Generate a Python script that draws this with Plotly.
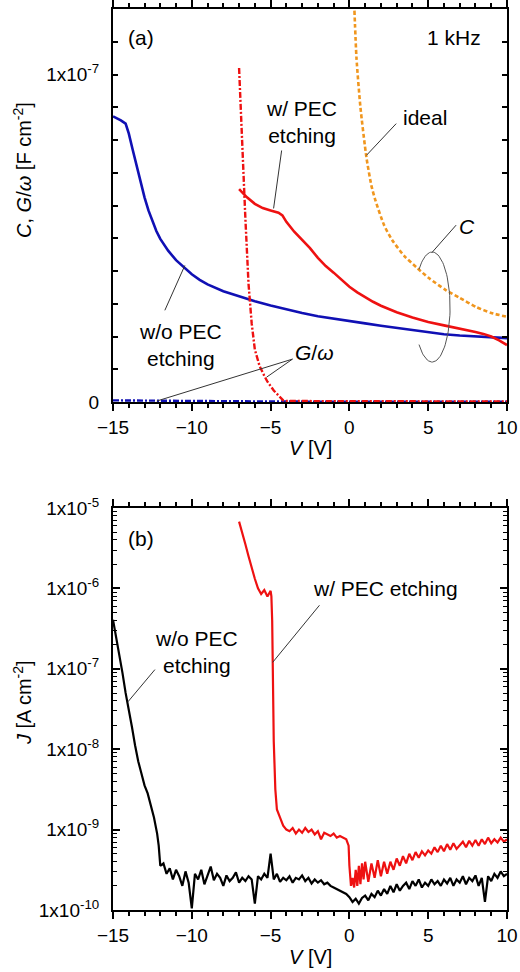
import numpy as np
import plotly.graph_objects as go

# ---------------- Panel (a): C-V and G/omega-V (values in units of 1e-8 F cm^-2) ----------------
UNIT_A = 1e-8

V_C_wo = [-15, -14.5, -14.2, -14.0, -13.75, -13.5, -13.25, -13.0, -12.75, -12.5, -12.25, -12.0, -11.5, -11.0,
          -10.5, -10.0, -9.5, -9.0, -8.0, -7.0, -6.0, -5.0, -4.0, -3.0, -2.0, -1.0, 0, 1, 2, 3, 4, 5, 6, 7, 8, 9, 10]
C_wo = [8.72, 8.6, 8.5, 8.2, 7.7, 7.2, 6.7, 6.25, 5.85, 5.5, 5.22, 4.98, 4.62, 4.33,
        4.1, 3.9, 3.73, 3.59, 3.38, 3.22, 3.08, 2.95, 2.83, 2.72, 2.62, 2.54, 2.47, 2.4, 2.33, 2.26, 2.19,
        2.12, 2.07, 2.03, 2.0, 1.97, 1.95]

V_G_wo = [-15, -14, -13, -12, -10, -5, 0, 5, 10]
G_wo = [0.05, 0.045, 0.04, 0.03, 0.02, 0.015, 0.01, 0.01, 0.01]

V_C_w = [-7.0, -6.5, -6.0, -5.5, -5.0, -4.5, -4.25, -4.0, -3.5, -3.0, -2.5, -2.0, -1.5, -1.0, -0.5, 0, 0.5,
         1.0, 1.5, 2.0, 3.0, 4.0, 5.0, 6.0, 7.0, 8.0, 8.5, 9.0, 9.5, 10.0]
C_w = [6.5, 6.25, 6.05, 5.92, 5.85, 5.78, 5.7, 5.5, 5.2, 4.95, 4.7, 4.4, 4.15, 3.95, 3.72, 3.52, 3.35,
       3.2, 3.06, 2.94, 2.74, 2.58, 2.44, 2.34, 2.25, 2.14, 2.08, 2.0, 1.88, 1.74]

V_G_w = [-7.0, -6.8, -6.6, -6.4, -6.2, -6.0, -5.7, -5.4, -5.2, -4.8, -4.5, -4.2, -4.0, 0, 5, 10]
G_w = [10.2, 7.8, 5.6, 3.6, 2.4, 1.6, 1.1, 0.8, 0.62, 0.35, 0.2, 0.05, 0.03, 0.02, 0.02, 0.02]

V_ideal = [0.32, 0.45, 0.7, 1.08, 1.4, 1.65, 2.2, 2.72, 3.5, 4.24, 5.0, 6.14, 7.0, 8.04, 9.0, 10.0]
C_ideal = [11.95, 10.5, 9.0, 7.47, 6.6, 6.16, 5.4, 4.94, 4.45, 4.12, 3.8, 3.41, 3.18, 2.9, 2.72, 2.6]

# ---------------- Panel (b): J-V (log10 of J in A cm^-2) ----------------
V_J_wo = [-15, -14.8, -14.6, -14.4, -14.2, -14.0, -13.8, -13.6, -13.4, -13.2, -13.0, -12.8, -12.6, -12.4,
          -12.2, -12.1, -12.0] + [round(-11.8 + 0.2 * i, 1) for i in range(110)]
logJ_wo = [-6.39, -6.6, -6.85, -7.05, -7.3, -7.5, -7.72, -7.95, -8.15, -8.3, -8.45, -8.55, -8.7, -8.85,
           -9.05, -9.2, -9.45,
           -9.42, -9.55, -9.48, -9.62, -9.5, -9.58, -9.7, -9.52, -9.66, -9.98,
           -9.55, -9.62, -9.5, -9.68, -9.58, -9.46, -9.63, -9.55, -9.6, -9.7,
           -9.57, -9.64, -9.6, -9.53, -9.66, -9.6, -9.64, -9.58, -9.62, -9.92,
           -9.58, -9.62, -9.55, -9.6, -9.3, -9.62, -9.55, -9.65, -9.6, -9.63,
           -9.58, -9.66, -9.6, -9.62, -9.57, -9.64, -9.6, -9.67, -9.62, -9.66,
           -9.63, -9.68, -9.66, -9.7, -9.72, -9.74, -9.76, -9.78, -9.8, -9.84,
           -9.9, -9.86, -9.92, -9.85, -9.82, -9.88, -9.8, -9.84, -9.76, -9.82,
           -9.74, -9.8, -9.7, -9.78, -9.68, -9.76, -9.7, -9.66, -9.74, -9.64,
           -9.7, -9.62, -9.72, -9.66, -9.7, -9.62, -9.68, -9.64, -9.7, -9.62,
           -9.67, -9.6, -9.7, -9.62, -9.66, -9.58, -9.68, -9.6, -9.64, -9.57,
           -9.7, -9.6, -9.9, -9.58, -9.64, -9.55, -9.6, -9.52, -9.58, -9.55]

V_J_w = [-7.0, -6.8, -6.6, -6.4, -6.2, -6.0, -5.8, -5.6, -5.4, -5.2, -5.0, -4.95, -4.9, -4.85, -4.8, -4.7,
         -4.6, -4.4, -4.2, -4.0, -3.8, -3.6, -3.4, -3.2, -3.0, -2.8, -2.6, -2.4, -2.2, -2.0, -1.8, -1.6,
         -1.4, -1.2, -1.0, -0.8, -0.6, -0.4, -0.2, -0.05, 0.0, 0.1, 0.2, 0.3, 0.4, 0.5, 0.6, 0.7, 0.8,
         0.9, 1.0, 1.2, 1.4, 1.6, 1.8, 2.0, 2.2, 2.4, 2.6, 2.8, 3.0, 3.2, 3.4, 3.6, 3.8, 4.0, 4.2, 4.4,
         4.6, 4.8, 5.0, 5.2, 5.4, 5.6, 5.8, 6.0, 6.2, 6.4, 6.6, 6.8, 7.0, 7.2, 7.4, 7.6, 7.8, 8.0, 8.2,
         8.4, 8.6, 8.8, 9.0, 9.2, 9.4, 9.6, 9.8, 10.0]
logJ_w = [-5.17, -5.3, -5.45, -5.6, -5.75, -5.88, -6.0, -6.07, -6.02, -6.1, -6.03, -6.1, -6.4, -7.2, -7.9,
          -8.5, -8.75, -8.85, -8.95, -9.0, -9.02, -8.98, -9.05, -9.0, -9.04, -8.98, -9.03, -9.0, -9.06,
          -9.02, -9.12, -9.04, -9.06, -9.08, -9.05, -9.1, -9.08, -9.1, -9.12, -9.2, -9.45, -9.7, -9.6,
          -9.72, -9.5, -9.7, -9.45, -9.68, -9.42, -9.62, -9.4, -9.65, -9.42, -9.6, -9.38, -9.58, -9.4,
          -9.55, -9.4, -9.5, -9.36, -9.45, -9.33, -9.42, -9.3, -9.38, -9.28, -9.35, -9.27, -9.32, -9.26,
          -9.3, -9.22, -9.28, -9.2, -9.27, -9.18, -9.25, -9.17, -9.24, -9.2, -9.15, -9.22, -9.14, -9.2,
          -9.13, -9.2, -9.12, -9.18, -9.1, -9.17, -9.12, -9.16, -9.1, -9.15, -9.12]

x_ticks = [-15, -10, -5, 0, 5, 10]
ya_ticks = [i * 1e-8 for i in range(13)]
ya_text = ["0" if i == 0 else ("1x10<sup>-7</sup>" if i == 10 else "") for i in range(13)]
yb_ticks = [1e-10, 1e-9, 1e-8, 1e-7, 1e-6, 1e-5]
yb_text = ["1x10<sup>-10</sup>", "1x10<sup>-9</sup>", "1x10<sup>-8</sup>", "1x10<sup>-7</sup>",
           "1x10<sup>-6</sup>", "1x10<sup>-5</sup>"]

BLUE = "#1010b4"
RED = "#ee1111"
ORANGE = "#f0961e"
FONT = "Liberation Sans, Arial, sans-serif"
W, H = 520, 972

fig = go.Figure()

def sc(a):
    return [v * UNIT_A for v in a]

fig.add_trace(go.Scatter(x=V_C_wo, y=sc(C_wo), mode="lines", line=dict(color=BLUE, width=2.6), xaxis="x", yaxis="y"))
fig.add_trace(go.Scatter(x=V_G_wo, y=sc(G_wo), mode="lines", line=dict(color=BLUE, width=2.4, dash="6px,2px,2px,2px"), xaxis="x", yaxis="y"))
fig.add_trace(go.Scatter(x=V_ideal, y=sc(C_ideal), mode="lines", line=dict(color=ORANGE, width=2.6, dash="4px,2.5px", shape="spline", smoothing=0.6), xaxis="x", yaxis="y"))
fig.add_trace(go.Scatter(x=V_G_w, y=sc(G_w), mode="lines", line=dict(color=RED, width=2.4, dash="6px,2px,2px,2px"), xaxis="x", yaxis="y"))
fig.add_trace(go.Scatter(x=V_C_w, y=sc(C_w), mode="lines", line=dict(color=RED, width=2.6), xaxis="x", yaxis="y"))

fig.add_trace(go.Scatter(x=V_J_wo, y=[10 ** v for v in logJ_wo], mode="lines", line=dict(color="black", width=2.2), xaxis="x2", yaxis="y2"))
fig.add_trace(go.Scatter(x=V_J_w, y=[10 ** v for v in logJ_w], mode="lines", line=dict(color=RED, width=2.2), xaxis="x2", yaxis="y2"))

# "C" bracket (open ellipse) annotation
ec_x, ec_y, erx, ery = 5.25, 2.90e-8, 1.14, 1.68e-8
t = np.linspace(-2.39, 2.39, 80)
fig.add_trace(go.Scatter(x=ec_x + erx * np.cos(t), y=ec_y + ery * np.sin(t), mode="lines",
                         line=dict(color="#555555", width=1), xaxis="x", yaxis="y"))

xd_px = (113, 507)
def ax_common(**kw):
    d = dict(showline=True, linecolor="black", linewidth=2, mirror="ticks", showgrid=False, zeroline=False,
             tickfont=dict(family=FONT, size=19, color="black"), tickcolor="black", automargin=False)
    d.update(kw)
    return d

dom_x = [xd_px[0] / W, xd_px[1] / W]
layout = dict(
    width=W, height=H, margin=dict(l=0, r=0, t=0, b=0), showlegend=False,
    paper_bgcolor="white", plot_bgcolor="white", template="none",
    font=dict(family=FONT, size=19, color="black"),
    xaxis=ax_common(domain=dom_x, range=[-15, 10], anchor="y", tickvals=x_ticks, ticks="outside", ticklen=7, tickwidth=2,
                    minor=dict(dtick=1, tick0=0, ticks="outside", ticklen=4, tickwidth=1.5, tickcolor="black", showgrid=False)),
    yaxis=ax_common(domain=[1 - 402 / H, 1 - 9 / H], range=[0, 1.2e-7], anchor="x", tickmode="array",
                    tickvals=ya_ticks, ticktext=ya_text, ticks="inside", ticklen=5, tickwidth=2, ticklabelstandoff=8),
    xaxis2=ax_common(domain=dom_x, range=[-15, 10], anchor="y2", tickvals=x_ticks, ticks="outside", ticklen=7, tickwidth=2,
                     minor=dict(dtick=1, tick0=0, ticks="outside", ticklen=4, tickwidth=1.5, tickcolor="black", showgrid=False)),
    yaxis2=ax_common(domain=[1 - 910 / H, 1 - 508 / H], type="log", range=[-10, -5], anchor="x2", tickmode="array",
                     tickvals=yb_ticks, ticktext=yb_text, ticks="inside", ticklen=7, tickwidth=2, ticklabelstandoff=8,
                     minor=dict(dtick="D1", ticks="inside", ticklen=4, tickwidth=1.2, tickcolor="black", showgrid=False)),
)
fig.update_layout(**layout)

LC = "#333333"
def seg(x0, y0, x1, y1, xr="x", yr="y"):
    fig.add_shape(type="line", x0=x0, y0=y0, x1=x1, y1=y1, xref=xr, yref=yr, line=dict(color=LC, width=1))

seg(-4.30, 7.68e-8, -4.81, 5.91e-8)
seg(2.97, 8.5e-8, 1.08, 7.53e-8)
seg(-11.71, 2.80e-8, -10.44, 4.17e-8)
seg(-3.61, 1.31e-8, -12.22, 0.03e-8)
seg(-3.61, 1.31e-8, -5.25, 0.76e-8)
seg(6.77, 5.40e-8, 5.25, 4.57e-8)
# panel b leader lines
fig.add_shape(type="line", x0=-1.9, y0=10 ** -6.21, x1=-4.87, y1=10 ** -6.92, xref="x2", yref="y2", line=dict(color=LC, width=1))
fig.add_shape(type="line", x0=-12.34, y0=10 ** -7.01, x1=-14.05, y1=10 ** -7.41, xref="x2", yref="y2", line=dict(color=LC, width=1))

def txt(x_px, y_px, s, size=21, **kw):
    d = dict(x=x_px / W, y=1 - y_px / H, xref="paper", yref="paper", text=s, showarrow=False,
             font=dict(family=FONT, size=size, color="black"), xanchor="center", yanchor="middle")
    d.update(kw)
    fig.add_annotation(**d)

txt(141, 38, "(a)")
txt(483, 37, "1 kHz", xanchor="right")
txt(301, 122, "w/ PEC<br>etching")
txt(425, 118, "ideal")
txt(180, 345, "w/o PEC<br>etching")
txt(314, 352, "<i>G</i>/<i>ω</i>")
txt(467, 226, "<i>C</i>")
txt(310, 448, "<i>V</i> [V]", size=20)
txt(22, 170, "<i>C</i>, <i>G</i>/<i>ω</i> [F cm<sup>-2</sup>]", size=20, textangle=-90)

txt(141, 538, "(b)")
txt(385, 588, "w/ PEC etching")
txt(196, 652, "w/o PEC<br>etching")
txt(310, 957, "<i>V</i> [V]", size=20)
txt(22, 703, "<i>J</i> [A cm<sup>-2</sup>]", size=20, textangle=-90)

fig.write_html("out.html")
